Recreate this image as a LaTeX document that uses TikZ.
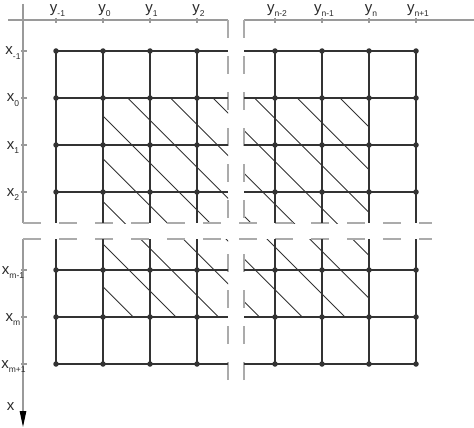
\documentclass[tikz,border=0pt]{standalone}
\usepackage{fontspec}
\setmainfont{Liberation Sans}
\usetikzlibrary{arrows.meta}
\definecolor{gridcol}{HTML}{333333}
\definecolor{axiscol}{HTML}{9A9A9A}
\definecolor{breakcol}{HTML}{ABABAB}
\definecolor{labcol}{HTML}{2A2A2A}
\newcommand\sbs[1]{\raisebox{-0.3em}{\fontsize{8.5}{8.5}\selectfont #1}}
\begin{document}
\begin{tikzpicture}[x=1pt,y=-1pt,
  gridline/.style={draw=gridcol, line width=1.4pt},
  hatchline/.style={draw=gridcol, line width=0.9pt},
  axisline/.style={draw=axiscol, line width=1.1pt},
  breakline/.style={draw=breakcol, line width=1.1pt, dash pattern=on 18pt off 18pt},
  dot/.style={circle, fill=gridcol, inner sep=0pt, minimum size=5.5pt},
  lab/.style={text=labcol, font=\fontsize{15}{15}\selectfont, inner sep=0pt, anchor=base}]
\useasboundingbox (0,0) rectangle (474,428);

% grid coordinates
\foreach \cx [count=\i] in {56,103,150,197,275,322,369,416} {
  \coordinate (ct\i) at (\cx,223);
  \coordinate (cb\i) at (\cx,239);
  \coordinate (tk\i) at (\cx,18);
  \foreach \ry [count=\j] in {51,98,145,192,270,317,364} {
    \coordinate (p\i-\j) at (\cx,\ry);
  }
}
\foreach \ry [count=\j] in {51,98,145,192,270,317,364} {
  \coordinate (bl\j) at (228,\ry);
  \coordinate (br\j) at (244,\ry);
  \coordinate (lk\j) at (21,\ry);
}

% hatching
\begin{scope}
  \clip (103,98) rectangle (228,223);
  \foreach \k in {-6,...,5} {\draw[hatchline] ({-13+42.7*\k},0) -- ({-13+42.7*\k+430},430);}
\end{scope}
\begin{scope}
  \clip (103,239) rectangle (228,317);
  \foreach \k in {-6,...,5} {\draw[hatchline] ({-13+42.7*\k},0) -- ({-13+42.7*\k+430},430);}
\end{scope}
\begin{scope}
  \clip (244,98) rectangle (369,223);
  \foreach \k in {-6,...,6} {\draw[hatchline] ({28+42.8*\k},0) -- ({28+42.8*\k+430},430);}
\end{scope}
\begin{scope}
  \clip (244,239) rectangle (369,317);
  \foreach \k in {-6,...,6} {\draw[hatchline] ({28+42.8*\k},0) -- ({28+42.8*\k+430},430);}
\end{scope}

% axes
\coordinate (axL) at (8,20);
\coordinate (axM1) at (228,20);
\coordinate (axM2) at (244,20);
\coordinate (axR) at (474,20);
\coordinate (avT) at (23,4);
\coordinate (avM1) at (23,223);
\coordinate (avM2) at (23,239);
\coordinate (avB) at (23,427);
\draw[axisline] (axL) -- (axM1);
\draw[axisline] (axM2) -- (axR);
\draw[axisline] (avT) -- (avM1);
\draw[axisline, -{Triangle[length=16pt,width=6.5pt,color=black]}] (avM2) -- (avB);
\foreach \i in {1,...,8} {\draw[axisline] (tk\i) -- ++(0,5);}
\foreach \j in {1,...,7} {\draw[axisline] (lk\j) -- ++(6,0);}

% break lines
\coordinate (hbR1) at (432,223);
\coordinate (hbR2) at (432,239);
\coordinate (vb1) at (228,223);
\coordinate (vb2) at (244,223);
\coordinate (vb3) at (228,380);
\coordinate (vb4) at (244,380);
\coordinate (vb5) at (228,239);
\coordinate (vb6) at (244,239);
\draw[breakline] (avM1) -- (hbR1);
\draw[breakline] (avM2) -- (hbR2);
\draw[breakline] (axM1) -- (vb1);
\draw[breakline] (axM2) -- (vb2);
\draw[breakline] (vb3) -- (vb5);
\draw[breakline] (vb4) -- (vb6);

% grid lines
\foreach \j in {1,...,7} {
  \draw[gridline] (p1-\j) -- (bl\j);
  \draw[gridline] (br\j) -- (p8-\j);
}
\foreach \i in {1,...,8} {
  \draw[gridline] (p\i-1) -- (ct\i);
  \draw[gridline] (cb\i) -- (p\i-7);
}
\foreach \i in {1,...,8} {
  \foreach \j in {1,...,7} {
    \node[dot] (d\i-\j) at (p\i-\j) {};
  }
}

% labels
\node[lab] (ly1) at (57.5,12.5) {y\sbs{-1}};
\node[lab] (ly2) at (104.5,12.5) {y\sbs{0}};
\node[lab] (ly3) at (151.5,12.5) {y\sbs{1}};
\node[lab] (ly4) at (198.5,12.5) {y\sbs{2}};
\node[lab] (ly5) at (277,12.5) {y\sbs{n-2}};
\node[lab] (ly6) at (324,12.5) {y\sbs{n-1}};
\node[lab] (ly7) at (371,12.5) {y\sbs{n}};
\node[lab] (ly8) at (418,12.5) {y\sbs{n+1}};

\node[lab] (lx1) at (13,55) {x\sbs{-1}};
\node[lab] (lx2) at (13,102) {x\sbs{0}};
\node[lab] (lx3) at (13,149) {x\sbs{1}};
\node[lab] (lx4) at (13,196) {x\sbs{2}};
\node[lab] (lx5) at (13,274) {x\sbs{m-1}};
\node[lab] (lx6) at (13,321) {x\sbs{m}};
\node[lab] (lx7) at (13.5,368) {x\sbs{m+1}};
\node[lab] (lxa) at (10.5,410) {x};
\end{tikzpicture}
\end{document}
